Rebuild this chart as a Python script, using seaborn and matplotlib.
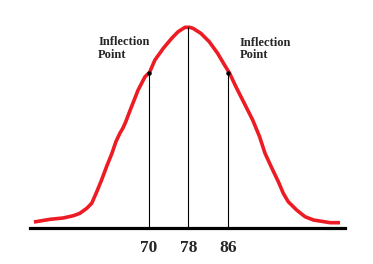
import matplotlib
matplotlib.use("Agg")
import matplotlib.pyplot as plt
import seaborn as sns
import pandas as pd

# curve (x in score units, y in arbitrary height units)
curve_x = [46.7, 50.0, 52.6, 54.7, 56.0, 57.4, 58.4, 59.4, 60.4, 61.4, 62.5, 63.3,
           64.1, 64.7, 65.3, 66.2, 67.8, 69.2, 70.1, 71.2, 72.9, 74.6, 75.9, 77.3,
           78.2, 78.9, 80.5, 82.2, 83.9, 85.3, 86.3, 87.6, 89.3, 91.0, 92.4, 93.5,
           94.9, 96.2, 97.2, 98.2, 99.9, 101.6, 103.3, 106.7, 108.7]
curve_y = [6.0, 8.7, 10.0, 12.3, 14.7, 19.7, 24.7, 36.0, 48.0, 61.3, 74.7, 86.3,
           94.7, 99.7, 106.3, 118.0, 138.0, 151.3, 155.5, 168.0, 179.7, 189.7, 196.3, 200.7,
           200.7, 199.7, 194.7, 186.3, 174.7, 163.0, 155.0, 141.3, 124.7, 108.0, 91.3, 74.7,
           59.7, 46.3, 34.7, 26.3, 18.0, 11.3, 8.0, 5.3, 5.3]

tick_values = [70, 78, 86]
tick_labels = ["70", "78", "86"]
line_heights = [155.5, 200.7, 155.5]
inflection_x = [70, 86]
inflection_y = [155.5, 155.5]
label_text = "Inflection\nPoint"

df = pd.DataFrame({"x": curve_x, "y": curve_y})

sns.set_style("white")
fig = plt.figure(figsize=(3.73, 2.64), dpi=100)
ax = fig.add_axes([30 / 373, 36 / 264, 315 / 373, 218 / 264])

sns.lineplot(data=df, x="x", y="y", ax=ax, color="#ED1C24", linewidth=2.6,
             sort=False, estimator=None, solid_joinstyle="round", solid_capstyle="butt")

ax.vlines(tick_values, 0, line_heights, color="black", linewidth=0.8)
ax.plot(inflection_x, inflection_y, "o", color="black", markersize=2.2)

ax.set_xlim(45.9, 109.7)
ax.set_ylim(0, 218)

for s in ["top", "right", "left"]:
    ax.spines[s].set_visible(False)
ax.spines["bottom"].set_linewidth(2.3)
ax.spines["bottom"].set_color("black")

ax.set_yticks([])
ax.set_xticks(tick_values)
ax.set_xticklabels(tick_labels, fontfamily="Liberation Serif", fontweight="bold", fontsize=12.5)
ax.tick_params(axis="x", direction="out", length=5, width=0.8, color="black", pad=3.5)
ax.set_xlabel("")
ax.set_ylabel("")

ax.text(59.7, 192, label_text, fontfamily="Liberation Serif", fontweight="bold",
        fontsize=9, va="top", ha="left", linespacing=1.1)
ax.text(88.3, 191.5, label_text, fontfamily="Liberation Serif", fontweight="bold",
        fontsize=9, va="top", ha="left", linespacing=1.1)

fig.savefig("out.png", dpi=100)
